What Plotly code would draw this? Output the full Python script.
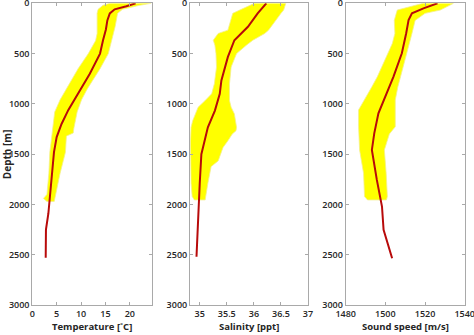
import plotly.graph_objects as go

# ---- Mean profiles (depth in m) ----
depth_T = [0, 30, 60, 100, 170, 260, 370, 500, 700, 900, 1060, 1200, 1330, 1480, 1750, 1950, 2090, 2250, 2530]
temp_mean = [21.2, 19.3, 16.9, 15.9, 15.4, 15.1, 14.5, 13.9, 11.8, 9.4, 7.4, 6.0, 5.0, 4.45, 4.0, 3.6, 3.3, 2.8, 2.75]

depth_S = [0, 100, 233, 367, 533, 767, 900, 1067, 1233, 1367, 1500, 1790, 2120, 2520]
sal_mean = [36.23, 36.07, 35.89, 35.64, 35.52, 35.40, 35.37, 35.28, 35.15, 35.09, 35.03, 35.00, 34.97, 34.94]

depth_C = [0, 50, 100, 166, 298, 497, 729, 928, 1094, 1293, 1458, 1756, 2021, 2253, 2535]
c_mean = [1526.3, 1519.2, 1513.4, 1511.7, 1510.5, 1508.3, 1504.1, 1499.9, 1496.5, 1494.4, 1493.2, 1495.7, 1498.3, 1499.1, 1503.4]

# ---- Spread of the individual casts (min / max envelope) ----
env_depth_T = [0, 20, 60, 100, 230, 300, 370, 420, 500, 650, 850, 960, 1080, 1250, 1290, 1320, 1480, 1690, 1900, 1940, 1970]
temp_min = [15.9, 14.5, 13.5, 13.3, 13.3, 13.3, 13.0, 12.5, 11.5, 9.4, 7.0, 5.7, 4.6, 4.3, 4.2, 4.0, 3.6, 3.4, 3.0, 2.3, 3.0]
temp_max = [24.4, 22.0, 18.5, 17.5, 17.0, 16.6, 16.3, 16.0, 15.6, 13.9, 11.3, 10.1, 9.2, 8.5, 8.4, 7.0, 6.8, 5.7, 4.9, 4.7, 4.5]

env_depth_S = [0, 67, 100, 267, 300, 367, 417, 500, 633, 800, 900, 967, 1033, 1100, 1167, 1233, 1267, 1300, 1367, 1433, 1567, 1624, 1790, 1920, 1955]
sal_min = [36.01, 35.74, 35.61, 35.52, 35.34, 35.25, 35.28, 35.30, 35.31, 35.27, 35.22, 35.10, 34.97, 34.92, 34.87, 34.84, 34.83, 34.83, 34.83, 34.83, 34.83, 34.83, 34.84, 34.86, 34.90]
sal_max = [36.59, 36.55, 36.50, 36.27, 36.20, 35.98, 35.86, 35.68, 35.58, 35.55, 35.55, 35.55, 35.58, 35.64, 35.66, 35.68, 35.67, 35.60, 35.52, 35.43, 35.34, 35.21, 35.15, 35.12, 35.10]

env_depth_C = [0, 67, 100, 170, 300, 400, 497, 630, 729, 830, 961, 1060, 1227, 1300, 1458, 1690, 1922, 1955]
c_min = [1519.0, 1506.0, 1505.5, 1504.5, 1504.8, 1503.5, 1501.5, 1498.3, 1496.0, 1493.2, 1489.5, 1486.5, 1486.5, 1486.6, 1487.0, 1489.0, 1489.5, 1491.0]
c_max = [1534.4, 1527.7, 1520.0, 1515.0, 1513.4, 1512.0, 1510.8, 1509.0, 1507.5, 1506.3, 1505.0, 1505.0, 1505.0, 1502.0, 1499.5, 1500.4, 1501.0, 1500.5]

# ---- Axis settings ----
x_titles = ["Temperature [˚C]", "Salinity [ppt]", "Sound speed [m/s]"]
x_ranges = [[0, 24.5], [34.82, 37.0], [1480, 1540]]
x_ticks = [[0, 5, 10, 15, 20], [35, 35.5, 36, 36.5, 37], [1480, 1500, 1520, 1540]]
x_ticktext = [["0", "5", "10", "15", "20"], ["35", "35.5", "36", "36.5", "37"], ["1480", "1500", "1520", "1540"]]
depth_ticks = [0, 500, 1000, 1500, 2000, 2500, 3000]

W, H = 474, 335
panel_px = [(32.3, 151.7), (190.0, 308.0), (345.7, 464.7)]
y_dom = [1 - 305.0 / H, 1 - 3.3 / H]

YELLOW = "#ffff00"
EDGE = "#f4f08c"
RED = "#b80a0a"
AXC = "#a9a9a9"
TXT = "#262626"

panels = [
    (env_depth_T, temp_min, temp_max, depth_T, temp_mean),
    (env_depth_S, sal_min, sal_max, depth_S, sal_mean),
    (env_depth_C, c_min, c_max, depth_C, c_mean),
]

fig = go.Figure()
layout = dict(
    width=W, height=H,
    margin=dict(l=0, r=0, t=0, b=0),
    paper_bgcolor="white", plot_bgcolor="white",
    showlegend=False,
    font=dict(family="Open Sans", size=10, color=TXT),
    annotations=[],
)

for i, (ed, vmin, vmax, md, vmean) in enumerate(panels):
    sfx = "" if i == 0 else str(i + 1)
    xa, ya = "x" + sfx, "y" + sfx
    # envelope polygon of all casts
    fig.add_trace(go.Scatter(
        x=list(vmax) + list(vmin)[::-1],
        y=list(ed) + list(ed)[::-1],
        fill="toself", fillcolor=YELLOW,
        mode="lines", line=dict(color=EDGE, width=0.8),
        xaxis=xa, yaxis=ya, hoverinfo="skip",
    ))
    # mean profile
    fig.add_trace(go.Scatter(
        x=vmean, y=md, mode="lines",
        line=dict(color=RED, width=2),
        xaxis=xa, yaxis=ya,
    ))
    x0, x1 = panel_px[i]
    common = dict(
        showline=True, linecolor=AXC, linewidth=1, mirror="ticks",
        ticks="inside", ticklen=3, tickcolor=AXC, tickwidth=1,
        showgrid=False, zeroline=False, ticklabeloverflow="allow",
        automargin=False,
        tickfont=dict(family="Open Sans", size=9, color=TXT, weight=600),
    )
    layout["xaxis" + sfx] = dict(
        domain=[x0 / W, x1 / W], anchor=ya, range=x_ranges[i],
        tickvals=x_ticks[i], ticktext=x_ticktext[i], **common,
    )
    layout["yaxis" + sfx] = dict(
        domain=y_dom, anchor=xa, range=[3000, 0],
        tickvals=depth_ticks, **common,
    )
    layout["annotations"].append(dict(
        text=x_titles[i], xref="paper", yref="paper",
        x=(x0 + x1) / 2 / W, y=1 - 326.5 / H, xanchor="center", yanchor="middle",
        showarrow=False, font=dict(family="Open Sans", size=9.5, color=TXT, weight="bold"),
    ))

layout["annotations"].append(dict(
    text="Depth [m]", xref="paper", yref="paper",
    x=7.0 / W, y=(1 - 305.0 / H + 1 - 3.3 / H) / 2, textangle=-90,
    xanchor="center", yanchor="middle", showarrow=False,
    font=dict(family="Open Sans", size=10, color=TXT, weight="bold"),
))

fig.update_layout(**layout)
fig.write_html("out.html")
